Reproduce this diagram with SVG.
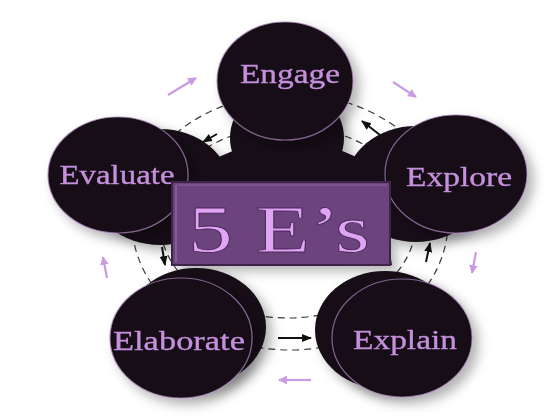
<svg xmlns="http://www.w3.org/2000/svg" width="560" height="420" viewBox="0 0 560 420">
<defs>
<filter id="sh" x="-30%" y="-30%" width="170%" height="170%">
<feDropShadow dx="6" dy="6" stdDeviation="6" flood-color="#000" flood-opacity="0.3"/>
</filter>
<marker id="ab" viewBox="0 0 10 10" refX="9" refY="5" markerWidth="5" markerHeight="5" orient="auto"><path d="M0,1 L10,5 L0,9 z" fill="#111"/></marker>
<marker id="ap" viewBox="0 0 10 10" refX="9" refY="5" markerWidth="4" markerHeight="4" orient="auto"><path d="M0,0 L10,5 L0,10 z" fill="#c99be3"/></marker>
<style>
.copy{fill:#150b16;}
.main{fill:#140a15;stroke:#a682b4;stroke-width:1.2;stroke-opacity:0.75;}
.lbl{font-family:"Liberation Serif","Times New Roman",serif;font-size:28px;fill:#c490dc;stroke:#c490dc;stroke-width:0.35;text-anchor:middle;}
.dash{fill:none;stroke:#3a3a3a;stroke-width:1.2;stroke-dasharray:7 5;}
.blk{stroke:#111;stroke-width:2;marker-end:url(#ab);}
.pur{stroke:#c99be3;stroke-width:2.2;marker-end:url(#ap);}
</style>
</defs>
<rect width="560" height="420" fill="#ffffff"/>
<g id="connectors">
<ellipse class="dash" cx="290" cy="222" rx="158" ry="128"/>
<ellipse class="dash" cx="288" cy="222" rx="128" ry="96"/>
<line class="blk" x1="380" y1="135" x2="362" y2="121"/>
<line class="blk" x1="217" y1="134" x2="203" y2="142"/>
<line class="blk" x1="162" y1="247" x2="165" y2="265"/>
<line class="blk" x1="278" y1="338" x2="311" y2="338"/>
<line class="blk" x1="426" y1="262" x2="430" y2="243"/>
<line class="pur" x1="168" y1="95" x2="196" y2="78"/>
<line class="pur" x1="393" y1="82" x2="416" y2="97"/>
<line class="pur" x1="476" y1="252" x2="472" y2="273"/>
<line class="pur" x1="311" y1="380" x2="279" y2="380"/>
<line class="pur" x1="107" y1="278" x2="103" y2="257"/>
</g>
<g id="hub" filter="url(#sh)">
<ellipse class="copy" cx="160" cy="187" rx="70" ry="58"/>
<ellipse class="copy" cx="416" cy="184" rx="70" ry="58"/>
<ellipse class="copy" cx="287" cy="138" rx="57" ry="52"/>
<ellipse class="copy" cx="196" cy="327" rx="70" ry="59"/>
<ellipse class="copy" cx="385" cy="330" rx="70" ry="59"/>
<polygon class="copy" points="200,165 235,150 340,150 375,165 392,265 172,265"/>
</g>
<g id="engage" filter="url(#sh)">
<ellipse class="main" cx="285" cy="81" rx="68" ry="59"/>
<text class="lbl" x="290" y="83" textLength="100" lengthAdjust="spacingAndGlyphs">Engage</text>
</g>
<g id="explore" filter="url(#sh)">
<ellipse class="main" cx="456" cy="174" rx="71" ry="59"/>
<text class="lbl" x="459" y="186" textLength="106" lengthAdjust="spacingAndGlyphs">Explore</text>
</g>
<g id="evaluate" filter="url(#sh)">
<ellipse class="main" cx="118" cy="175" rx="70" ry="58"/>
<text class="lbl" x="117" y="184" textLength="115" lengthAdjust="spacingAndGlyphs">Evaluate</text>
</g>
<g id="elaborate" filter="url(#sh)">
<ellipse class="main" cx="181" cy="338" rx="71" ry="60"/>
<text class="lbl" x="179" y="350" textLength="132" lengthAdjust="spacingAndGlyphs">Elaborate</text>
</g>
<g id="explain" filter="url(#sh)">
<ellipse class="main" cx="402" cy="338" rx="70" ry="59"/>
<text class="lbl" x="405" y="349" textLength="104" lengthAdjust="spacingAndGlyphs">Explain</text>
</g>
<g id="title">
<rect x="172" y="182" width="218" height="83" fill="#6b437d" stroke="#3f2449" stroke-width="2"/>
<line x1="176" y1="185" x2="176" y2="262" stroke="#8c67a0" stroke-width="1.5"/>
<line x1="176" y1="185" x2="387" y2="185" stroke="#8c67a0" stroke-width="1"/>
<text x="188" y="252" font-family="'Liberation Serif','Times New Roman',serif" font-size="68" fill="#e0a4f4" stroke="#4a2758" stroke-width="0.8" textLength="182" lengthAdjust="spacingAndGlyphs">5 E’s</text>
</g>
</svg>
